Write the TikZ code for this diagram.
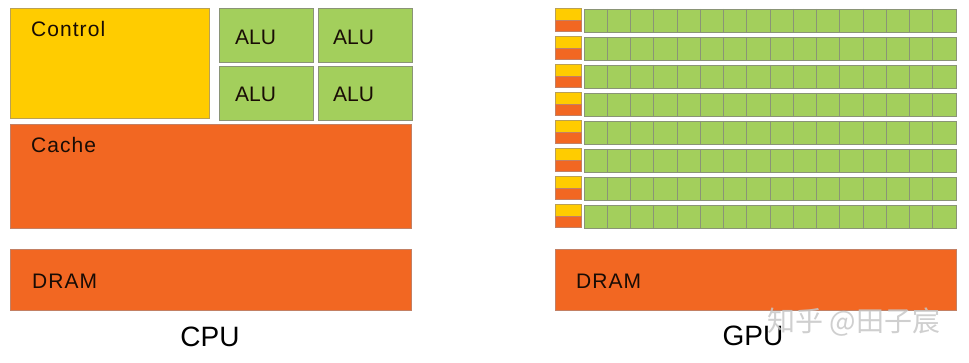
\documentclass[tikz,border=0pt]{standalone}
\usepackage{fontspec}
\setmainfont{Liberation Sans}
\newfontfamily\spfont[LetterSpace=5]{Liberation Sans}
\newfontfamily\cjkfont{Noto Sans CJK SC}
\definecolor{ctrlY}{RGB}{255,204,0}
\definecolor{ctrlYb}{RGB}{185,160,85}
\definecolor{cacheO}{RGB}{242,103,34}
\definecolor{cacheOb}{RGB}{195,128,100}
\definecolor{aluG}{RGB}{163,207,92}
\definecolor{aluGb}{RGB}{138,148,118}
\definecolor{txt}{RGB}{25,12,5}
\begin{document}
\begin{tikzpicture}[x=1pt,y=-1pt,
  ybox/.style={fill=ctrlY,draw=ctrlYb,line width=0.8pt},
  obox/.style={fill=cacheO,draw=cacheOb,line width=0.8pt},
  gbox/.style={fill=aluG,draw=aluGb,line width=0.8pt},
  lbl/.style={anchor=base west,inner sep=0pt,text=txt,font=\fontsize{21}{25}\selectfont},
  splbl/.style={lbl,font=\spfont\fontsize{21}{25}\selectfont},
  bigtitle/.style={anchor=base,inner sep=0pt,text=black,font=\fontsize{28}{32}\selectfont}]
\useasboundingbox (0,0) rectangle (969,363);
\fill[white] (0,0) rectangle (969,363);
% CPU
\draw[ybox] (10,8) rectangle (209,118);
\draw[gbox] (219,8) rectangle (313,62);
\draw[gbox] (318,8) rectangle (412,62);
\draw[gbox] (219,66) rectangle (313,120);
\draw[gbox] (318,66) rectangle (412,120);
\draw[obox] (10,124) rectangle (411,228);
\draw[obox] (10,249) rectangle (411,310);
\node[splbl] (control) at (31,37) {Control};
\node[lbl] (alu1) at (235,45) {ALU};
\node[lbl] (alu2) at (333,45) {ALU};
\node[lbl] (alu3) at (235,102) {ALU};
\node[lbl] (alu4) at (333,102) {ALU};
\node[splbl] (cache) at (31,153) {Cache};
\node[splbl] (dram1) at (32,289) {DRAM};
\node[bigtitle] (cpu) at (210,346) {CPU};
% GPU
\foreach \r in {0,...,7}{
  \pgfmathsetmacro{\yt}{8+28*\r}
  \draw[ybox] (555,\yt) rectangle (581,\yt+12);
  \draw[obox] (555,\yt+12) rectangle (581,\yt+23);
  \draw[gbox] (584,\yt+1) rectangle (956,\yt+24);
  \foreach \c in {1,...,15}{
    \draw[aluGb,line width=0.8pt] (584+23.25*\c,\yt+1) -- (584+23.25*\c,\yt+24);
  }
}
\draw[obox] (555,249) rectangle (956,310);
\node[splbl] (dram2) at (576,289) {DRAM};
\node[bigtitle] (gpu) at (753,345) {GPU};
\node[anchor=center,inner sep=0pt,text=black!22,opacity=0.85,font=\cjkfont\fontsize{28}{32}\selectfont] (wm) at (854,322) {知乎 @田子宸};
\end{tikzpicture}
\end{document}
